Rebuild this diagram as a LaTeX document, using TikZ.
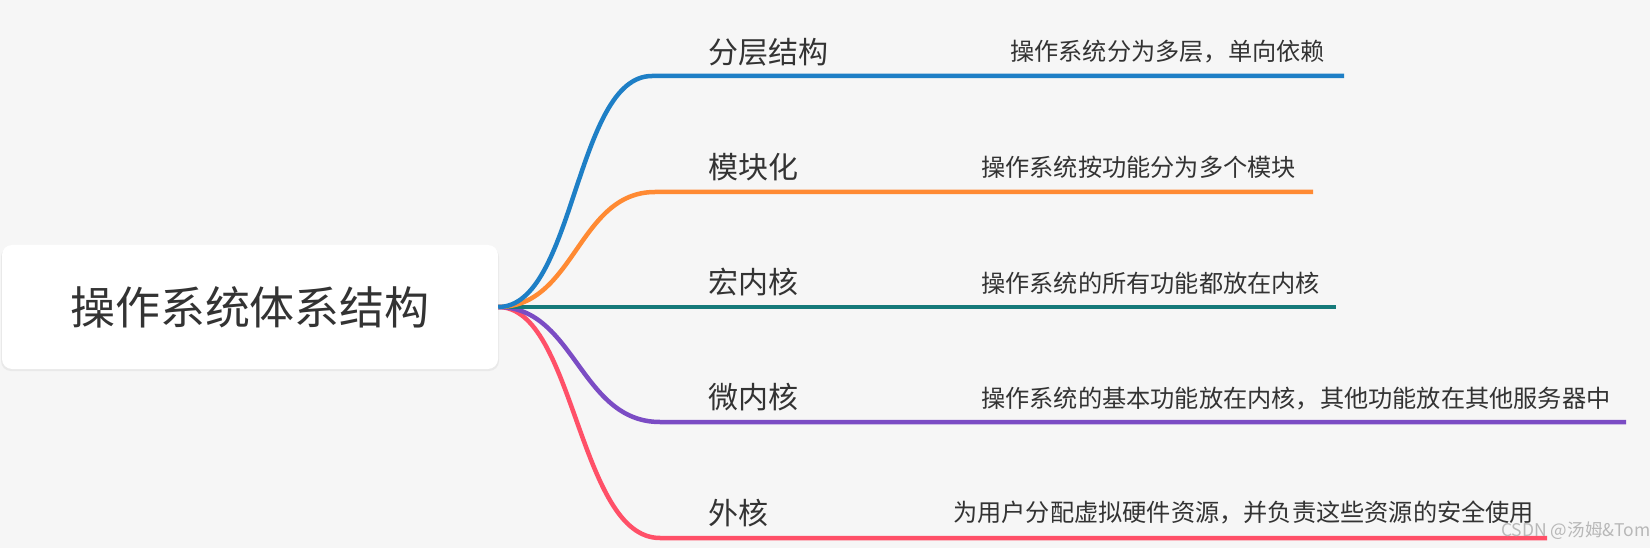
\documentclass[tikz,border=0pt]{standalone}
\usepackage{fontspec}
\setmainfont{Noto Sans CJK SC}
\definecolor{bg}{HTML}{F6F6F6}
\definecolor{shadowc}{HTML}{E9E9E9}
\definecolor{txt}{HTML}{333333}
\definecolor{cblue}{HTML}{1E7FC6}
\definecolor{corange}{HTML}{FF8A33}
\definecolor{cteal}{HTML}{157A7A}
\definecolor{cpurple}{HTML}{7B4CC4}
\definecolor{cred}{HTML}{FF5068}
\definecolor{wm}{HTML}{B8B8B8}
\tikzset{
  rootbox/.style={fill=white, rounded corners=10pt, text=txt, inner sep=0pt,
    font=\fontsize{45}{54}\selectfont},
  br/.style={line width=4.5pt},
  lbl/.style={anchor=west, inner sep=0pt, text=txt, font=\fontsize{30}{36}\selectfont},
  desc/.style={anchor=west, inner sep=0pt, text=txt, font=\fontsize{24.2}{29}\selectfont},
  wmark/.style={anchor=west, inner sep=0pt, text=wm, font=\fontsize{17.5}{21}\selectfont}
}
\begin{document}
\begin{tikzpicture}[x=1pt,y=-1pt]
\useasboundingbox (0,0) rectangle (1650,548);
\fill[bg] (0,0) rectangle (1650,548);
\fill[shadowc, rounded corners=10pt] (1,247) rectangle (499,371);
\node[rootbox, minimum width=496pt, minimum height=124pt] (root) at (250,307) {操作系统体系结构};

% branch coordinates
\coordinate (b1) at (652,76);   \coordinate (e1) at (1344,76);
\coordinate (b2) at (655,192);  \coordinate (e2) at (1313,192);
\coordinate (e3) at (1336,307);
\coordinate (b4) at (660,422);  \coordinate (e4) at (1626,422);
\coordinate (b5) at (660,538);  \coordinate (e5) at (1547,538);

\draw[br, cred] (root.east) .. controls (575,307) and (578,538) .. (b5) -- (e5);
\draw[br, cpurple] (root.east) .. controls (575,307) and (580,422) .. (b4) -- (e4);
\draw[br, cteal] (root.east) -- (e3);
\draw[br, corange] (root.east) .. controls (575,307) and (578,192) .. (b2) -- (e2);
\draw[br, cblue] (root.east) .. controls (575,307) and (575,76) .. (b1) -- (e1);

% labels
\node[lbl] (l1) at (708,52) {分层结构};
\node[lbl] (l2) at (708,167) {模块化};
\node[lbl] (l3) at (708,282) {宏内核};
\node[lbl] (l4) at (708,397) {微内核};
\node[lbl] (l5) at (708,513) {外核};

% descriptions
\node[desc] (d1) at (1010,52) {操作系统分为多层，单向依赖};
\node[desc] (d2) at (981,167) {操作系统按功能分为多个模块};
\node[desc] (d3) at (981,283) {操作系统的所有功能都放在内核};
\node[desc] (d4) at (981,399) {操作系统的基本功能放在内核，其他功能放在其他服务器中};
\node[desc] (d5) at (953,512) {为用户分配虚拟硬件资源，并负责这些资源的安全使用};

\node[wmark] (wmk) at (1501,531) {CSDN @汤姆\&Tom};
\end{tikzpicture}
\end{document}
